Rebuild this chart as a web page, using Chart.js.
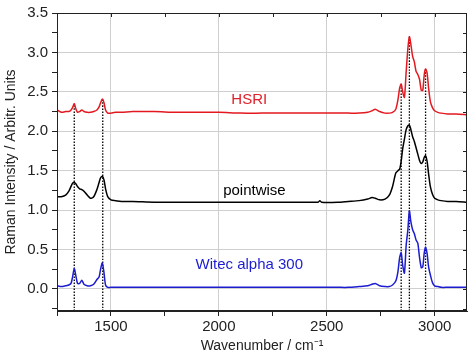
<!DOCTYPE html>
<html><head><meta charset="utf-8">
<script src="https://cdn.jsdelivr.net/npm/chart.js@4/dist/chart.umd.min.js"></script>
<style>html,body{margin:0;padding:0;background:#fff}#wrap{width:474px;height:361px}</style>
</head><body><div id="wrap"><canvas id="c" width="474" height="361"></canvas></div>
<script>
const wavenumbers = [1250,1270,1290,1305,1315,1322,1330,1338,1345,1355,1365,1375,1390,1405,1420,1435,1445,1452,1460,1468,1475,1485,1500,1520,1550,1600,1700,1800,1900,2000,2100,2200,2300,2400,2460,2468,2476,2550,2600,2650,2690,2710,2725,2745,2770,2790,2805,2820,2830,2838,2845,2852,2860,2868,2876,2883,2890,2898,2906,2914,2922,2930,2938,2945,2952,2958,2965,2972,2980,2990,3000,3015,3030,3060,3100,3150];
const hsri = [2.27,2.24,2.25,2.25,2.27,2.30,2.35,2.28,2.24,2.25,2.27,2.25,2.24,2.24,2.25,2.27,2.31,2.36,2.41,2.36,2.27,2.23,2.23,2.24,2.24,2.25,2.25,2.24,2.24,2.24,2.23,2.23,2.23,2.23,2.23,2.23,2.23,2.23,2.23,2.23,2.24,2.26,2.28,2.25,2.23,2.23,2.24,2.28,2.40,2.55,2.60,2.50,2.43,2.75,3.05,3.20,3.10,2.95,2.88,2.76,2.72,2.66,2.52,2.52,2.72,2.79,2.74,2.55,2.38,2.30,2.26,2.24,2.23,2.22,2.22,2.21];
const pointwise = [1.17,1.17,1.19,1.24,1.30,1.34,1.35,1.33,1.30,1.27,1.26,1.24,1.19,1.15,1.17,1.26,1.35,1.41,1.43,1.38,1.27,1.17,1.13,1.12,1.11,1.11,1.10,1.10,1.10,1.10,1.10,1.10,1.10,1.10,1.10,1.12,1.10,1.10,1.11,1.12,1.14,1.16,1.15,1.13,1.14,1.19,1.30,1.47,1.50,1.52,1.62,1.78,1.90,2.02,2.07,2.08,2.02,1.93,1.87,1.79,1.71,1.63,1.59,1.61,1.67,1.69,1.62,1.46,1.30,1.20,1.15,1.13,1.12,1.11,1.11,1.10];
const witec = [0.04,0.03,0.04,0.05,0.07,0.15,0.26,0.16,0.07,0.07,0.11,0.06,0.04,0.04,0.06,0.12,0.15,0.25,0.33,0.20,0.05,0.02,0.02,0.02,0.02,0.02,0.02,0.02,0.02,0.02,0.02,0.02,0.02,0.02,0.02,0.02,0.02,0.02,0.02,0.03,0.04,0.06,0.07,0.04,0.03,0.03,0.05,0.10,0.22,0.40,0.46,0.30,0.20,0.55,0.75,0.99,0.85,0.75,0.70,0.62,0.58,0.40,0.27,0.28,0.46,0.53,0.45,0.28,0.18,0.08,0.04,0.03,0.02,0.02,0.02,0.02];
const markerX = [1330,1462,2845,2883,2958];
const markerTop = [2.35,2.41,2.60,3.20,2.79];
const labelText = ["HSRI","pointwise","Witec alpha 300"];
const labelX = [2141,2165,2141];
const labelY = [2.40,1.245,0.31];
const labelColor = ["#e0202a","#000000","#1c1cd0"];
const xMin = 1250, xMax = 3150, yMin = -0.28, yMax = 3.5;

function series(ys){ return wavenumbers.map((x,i)=>({x:x,y:ys[i]})); }
const datasets = [
  {data:series(hsri),borderColor:'#e3191f',borderWidth:1.5},
  {data:series(pointwise),borderColor:'#000000',borderWidth:1.5},
  {data:series(witec),borderColor:'#1c1cd0',borderWidth:1.5}
];
markerX.forEach((x,i)=>datasets.push({data:[{x:x,y:yMin},{x:x,y:markerTop[i]}],borderColor:'#000',borderWidth:1.3,borderDash:[1.5,1.5]}));

const framePlugin = {
  id:'frame',
  afterDraw(chart){
    const ctx=chart.ctx, a=chart.chartArea, xs=chart.scales.x, ys=chart.scales.y;
    ctx.save();
    ctx.strokeStyle='#222'; ctx.lineWidth=1;
    ctx.strokeRect(a.left+0.5,a.top+0.5,a.right-a.left-1,a.bottom-a.top-1);
    ctx.beginPath();
    xs.ticks.forEach(t=>{const p=Math.round(xs.getPixelForValue(t.value))+0.5; ctx.moveTo(p,a.top); ctx.lineTo(p,a.top+4);});
    ys.ticks.forEach(t=>{const p=Math.round(ys.getPixelForValue(t.value))+0.5; ctx.moveTo(a.right,p); ctx.lineTo(a.right-4,p);});
    ctx.stroke();
    ctx.font='15px "Liberation Sans", Arial, sans-serif';
    ctx.textAlign='center'; ctx.textBaseline='middle';
    labelText.forEach((s,i)=>{ctx.fillStyle=labelColor[i]; ctx.fillText(s,xs.getPixelForValue(labelX[i]),ys.getPixelForValue(labelY[i]));});
    ctx.restore();
  }
};

const font = {family:'"Liberation Sans", Arial, sans-serif',size:15};
new Chart(document.getElementById('c'),{
  type:'line',
  data:{datasets:datasets},
  options:{
    responsive:false,animation:false,
    layout:{padding:{top:8,right:7,left:0,bottom:0}},
    elements:{point:{radius:0},line:{tension:0.25}},
    plugins:{legend:{display:false},tooltip:{enabled:false}},
    scales:{
      x:{type:'linear',min:xMin,max:xMax,
        afterFit(s){s.height=50;},
        ticks:{stepSize:250,includeBounds:false,autoSkip:false,maxRotation:0,color:'#222',font:font,padding:2,
          callback:(v)=> v%500===0 ? String(v) : ''},
        grid:{color:(c)=> (c.tick && c.tick.value%500===0) ? '#cfcfcf':'rgba(0,0,0,0)',tickColor:'#222',tickLength:5,drawTicks:true},
        border:{display:true,color:'#222'},
        title:{display:true,text:'Wavenumber / cm\u207B\u00B9',color:'#222',font:{family:font.family,size:14},padding:{top:2,bottom:6}}
      },
      y:{type:'linear',min:yMin,max:yMax,
        afterFit(s){s.width=57;},
        ticks:{stepSize:0.25,includeBounds:false,autoSkip:false,color:'#222',font:font,padding:4,
          callback:(v)=> Math.abs(Math.round(v*2)-v*2)<1e-6 ? v.toFixed(1) : ''},
        grid:{color:(c)=> (c.tick && Math.abs(Math.round(c.tick.value*2)-c.tick.value*2)<1e-6) ? '#cfcfcf':'rgba(0,0,0,0)',tickColor:'#222',tickLength:5},
        border:{display:true,color:'#222'},
        title:{display:true,text:'Raman Intensity / Arbitr. Units',color:'#222',font:{family:font.family,size:14},padding:{top:3,bottom:2}}
      }
    }
  },
  plugins:[framePlugin]
});
</script></body></html>
